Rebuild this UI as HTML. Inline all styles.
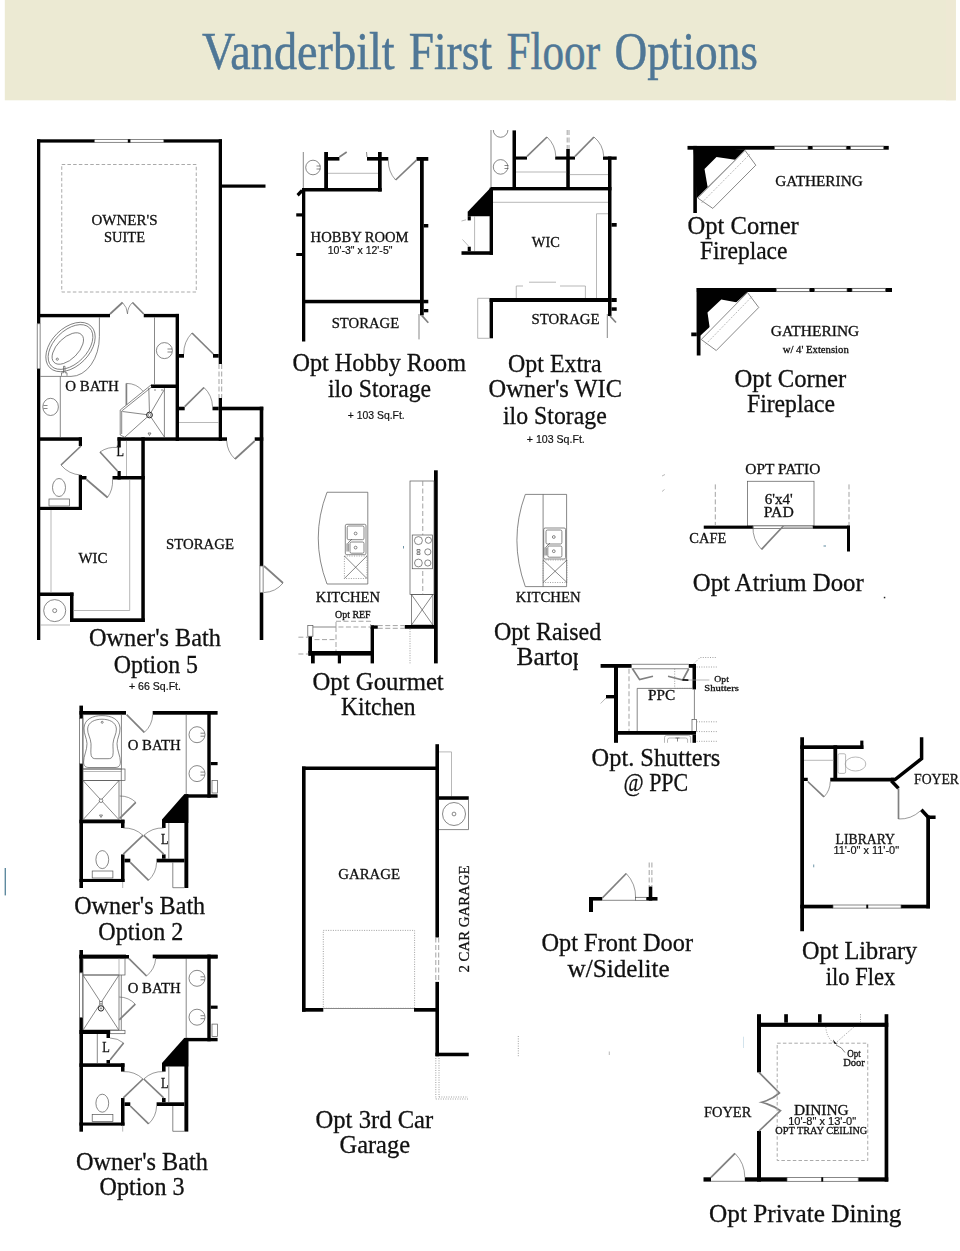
<!DOCTYPE html>
<html><head><meta charset="utf-8"><title>Vanderbilt First Floor Options</title>
<style>
html,body{margin:0;padding:0;background:#fff}
body{width:960px;height:1251px;overflow:hidden;font-family:"Liberation Serif",serif}
svg{display:block}
.s{font-family:"Liberation Serif",serif;fill:#111;stroke:#111;stroke-width:.3}
.a{font-family:"Liberation Sans",sans-serif;fill:#111;stroke:#111;stroke-width:.2}
.h{font-family:"Liberation Serif",serif;fill:#4f7796;stroke:#4f7796;stroke-width:.5}
.t{fill:none;stroke:#555;stroke-width:.7}
.tl{fill:none;stroke:#999;stroke-width:.7}
.tw{fill:#fff;stroke:#555;stroke-width:.7}
.d{fill:none;stroke:#555;stroke-width:.6}
.dl{fill:none;stroke:#808080;stroke-width:1.7}
.da{fill:none;stroke:#aaa;stroke-width:1;stroke-dasharray:3.5 2.2}
.dd{fill:none;stroke:#888;stroke-width:.8;stroke-dasharray:1 1.4}
.dg{fill:none;stroke:#999;stroke-width:.9;stroke-dasharray:5 2.5}
.k{fill:none;stroke:#000;stroke-width:3.5}
.tk{fill:#fff;stroke:#222;stroke-width:1}
</style></head><body>
<svg width="960" height="1251" viewBox="0 0 960 1251">
<g opacity="0.999">
<rect x="4.80" y="0.00" width="951.00" height="100.30" fill="#ecead3"/>
<rect x="946.00" y="0.00" width="9.80" height="100.30" fill="#eee9d4"/>
<text class="h" x="202.00" y="68.75" font-size="53" textLength="192.70" lengthAdjust="spacingAndGlyphs" >Vanderbilt</text>
<text class="h" x="408.75" y="68.75" font-size="53" textLength="83.25" lengthAdjust="spacingAndGlyphs" >First</text>
<text class="h" x="506.50" y="68.75" font-size="53" textLength="93.50" lengthAdjust="spacingAndGlyphs" >Floor</text>
<text class="h" x="614.40" y="68.75" font-size="53" textLength="143.60" lengthAdjust="spacingAndGlyphs" >Options</text>
<rect x="37.00" y="139.30" width="3.30" height="184.45" fill="#000"/>
<rect x="37.00" y="368.75" width="3.30" height="271.25" fill="#000"/>
<rect class="tw" x="37.20" y="323.75" width="2.90" height="45.00"/>
<rect x="37.00" y="139.30" width="57.50" height="3.30" fill="#000"/>
<rect x="163.75" y="139.30" width="58.25" height="3.30" fill="#000"/>
<rect class="tw" x="94.50" y="139.60" width="69.25" height="2.70"/>
<rect x="127.80" y="139.30" width="2.60" height="3.30" fill="#000"/>
<rect x="218.70" y="139.30" width="3.30" height="224.70" fill="#000"/>
<rect x="218.70" y="398.00" width="3.30" height="43.00" fill="#000"/>
<line class="dg" x1="219.00" y1="364.00" x2="219.00" y2="398.00"/>
<line class="dg" x1="221.70" y1="364.00" x2="221.70" y2="398.00"/>
<rect x="222.00" y="184.50" width="43.50" height="3.20" fill="#000"/>
<rect x="37.00" y="313.90" width="73.00" height="3.40" fill="#000"/>
<rect x="143.75" y="313.90" width="35.25" height="3.40" fill="#000"/>
<rect x="175.60" y="313.90" width="3.40" height="127.10" fill="#000"/>
<rect x="151.00" y="384.50" width="25.00" height="3.50" fill="#000"/>
<rect x="37.00" y="437.30" width="45.00" height="3.50" fill="#000"/>
<rect x="117.50" y="437.30" width="109.50" height="3.50" fill="#000"/>
<rect x="254.70" y="437.30" width="8.60" height="3.50" fill="#000"/>
<rect x="141.30" y="437.30" width="3.50" height="184.70" fill="#000"/>
<rect x="117.50" y="437.30" width="3.25" height="10.20" fill="#000"/>
<rect x="117.50" y="471.00" width="3.25" height="8.50" fill="#000"/>
<rect x="112.50" y="476.00" width="32.30" height="3.50" fill="#000"/>
<rect x="78.75" y="437.30" width="3.25" height="8.70" fill="#000"/>
<rect x="78.75" y="475.00" width="3.25" height="35.00" fill="#000"/>
<rect x="37.00" y="506.80" width="45.00" height="3.20" fill="#000"/>
<rect x="82.00" y="476.00" width="4.50" height="3.50" fill="#000"/>
<rect x="179.00" y="354.00" width="5.00" height="3.70" fill="#000"/>
<rect x="213.00" y="354.00" width="5.70" height="3.70" fill="#000"/>
<rect x="179.00" y="406.70" width="5.70" height="3.60" fill="#000"/>
<rect x="212.50" y="406.70" width="6.20" height="3.60" fill="#000"/>
<rect x="222.00" y="406.70" width="41.30" height="3.60" fill="#000"/>
<rect x="259.70" y="406.70" width="3.60" height="159.30" fill="#000"/>
<rect x="259.70" y="592.50" width="3.60" height="47.50" fill="#000"/>
<rect x="70.00" y="618.30" width="74.80" height="3.70" fill="#000"/>
<rect x="37.00" y="592.50" width="36.50" height="3.50" fill="#000"/>
<rect x="70.00" y="592.50" width="3.50" height="29.50" fill="#000"/>
<rect class="da" x="61.75" y="164.50" width="134.50" height="127.50"/>
<path class="dl" d="M110.00 314.00L122.50 302.50"/>
<path class="d" d="M122.50 302.50A16.99 16.99 0 0 1 127.50 313.90"/>
<path class="dl" d="M143.75 314.00L132.50 302.50"/>
<path class="d" d="M132.50 302.50A16.09 16.09 0 0 0 127.50 313.90"/>
<path class="t" d="M99.4 317.3V336.5A28.4 39.9 0 0 1 71 376.4H40.3" />
<ellipse class="t" cx="70.50" cy="347.00" rx="29.30" ry="19.00" transform="rotate(-45 70.50 347.00)"/>
<ellipse class="t" cx="70.50" cy="347.00" rx="27.00" ry="16.50" transform="rotate(-45 70.50 347.00)"/>
<ellipse class="t" cx="67.80" cy="348.50" rx="19.50" ry="10.60" transform="rotate(-45 67.80 348.50)"/>
<circle class="t" cx="57.30" cy="359.20" r="1.10"/>
<path class="t" d="M61.5 375.8v-3h2v-6.5h1.5v6.5h2v3" />
<line class="t" x1="60.30" y1="376.40" x2="60.30" y2="437.30"/>
<ellipse class="t" cx="50.60" cy="406.90" rx="7.80" ry="8.60"/>
<path class="t" d="M43.5 405.5h4M43.5 408.5h4" />
<line class="t" x1="154.50" y1="317.30" x2="154.50" y2="384.50"/>
<circle class="t" cx="164.40" cy="350.60" r="8.00"/>
<path class="t" d="M167.5 349h4.5M167.5 352h4.5" />
<path class="t" d="M151.4 384.7L120.2 410V435L124.8 437.3" />
<path class="t" d="M152.5 386.3L121.7 411V434" />
<path class="dl" d="M126.40 405.00L126.40 383.40"/>
<path class="d" d="M126.40 383.40A21.60 21.60 0 0 1 143.20 391.40"/>
<line class="t" x1="164.40" y1="388.00" x2="164.40" y2="437.30"/>
<path class="t" d="M149.5 415L148.8 388M149.5 415L164.4 389.5M149.5 415L164.4 437M149.5 415L125 437M149.5 415L122.5 411.5" />
<circle class="tk" cx="149.50" cy="415.00" r="2.90"/>
<circle class="t" cx="149.50" cy="415.00" r="1.50"/>
<path class="t" d="M148 433h3l-1.5 2.5z" />
<path class="t" d="M154 390h2M161 390h2" />
<path class="dl" d="M213.30 354.00L192.00 333.00"/>
<path class="d" d="M192.00 333.00A29.91 29.91 0 0 0 183.70 354.00"/>
<path class="dl" d="M184.70 406.70L204.00 387.50"/>
<path class="d" d="M204.00 387.50A27.22 27.22 0 0 1 212.50 406.70"/>
<line class="tl" x1="179.00" y1="422.50" x2="218.70" y2="422.50"/>
<path class="dl" d="M254.70 441.00L235.00 459.00"/>
<path class="d" d="M235.00 459.00A26.69 26.69 0 0 1 226.70 441.00"/>
<line class="tl" x1="126.50" y1="440.80" x2="126.50" y2="476.00"/>
<line class="tl" x1="129.70" y1="479.50" x2="129.70" y2="610.50"/>
<text class="s" x="116.50" y="455.50" font-size="14.5" textLength="7.50" lengthAdjust="spacingAndGlyphs" >L</text>
<path class="dl" d="M117.50 471.00L100.00 452.00"/>
<path class="d" d="M100.00 452.00A25.83 25.83 0 0 1 117.50 447.50"/>
<path class="dl" d="M81.00 446.00L61.00 465.00"/>
<path class="d" d="M61.00 465.00A27.59 27.59 0 0 0 81.00 475.00"/>
<ellipse class="t" cx="59.00" cy="487.50" rx="6.50" ry="9.00"/>
<rect class="t" x="49.00" y="499.00" width="20.50" height="7.00"/>
<path class="dl" d="M86.50 479.50L107.50 497.50"/>
<path class="d" d="M107.50 497.50A27.66 27.66 0 0 0 112.50 479.50"/>
<line class="tl" x1="51.00" y1="510.00" x2="51.00" y2="592.50"/>
<line class="tl" x1="73.50" y1="610.50" x2="129.70" y2="610.50"/>
<circle class="t" cx="54.70" cy="610.60" r="11.00"/>
<circle class="t" cx="54.70" cy="610.60" r="2.00"/>
<line class="tl" x1="40.30" y1="625.00" x2="70.00" y2="625.00"/>
<rect class="tw" x="259.90" y="566.00" width="3.20" height="26.50"/>
<path class="dl" d="M264.00 566.00L283.00 583.00"/>
<path class="d" d="M283.00 583.00A25.50 25.50 0 0 1 264.00 592.50"/>
<text class="s" x="91.50" y="224.50" font-size="14.5" textLength="66.00" lengthAdjust="spacingAndGlyphs" >OWNER'S</text>
<text class="s" x="104.00" y="241.50" font-size="14.5" textLength="41.00" lengthAdjust="spacingAndGlyphs" >SUITE</text>
<text class="s" x="65.25" y="390.50" font-size="14.5" textLength="53.50" lengthAdjust="spacingAndGlyphs" >O BATH</text>
<text class="s" x="78.50" y="563.00" font-size="14.5" textLength="29.00" lengthAdjust="spacingAndGlyphs" >WIC</text>
<text class="s" x="166.00" y="548.50" font-size="14.5" textLength="68.00" lengthAdjust="spacingAndGlyphs" >STORAGE</text>
<text class="s" x="89.00" y="646.00" font-size="24.5" textLength="132.00" lengthAdjust="spacingAndGlyphs" >Owner's Bath</text>
<text class="s" x="113.70" y="672.50" font-size="24.5" textLength="84.40" lengthAdjust="spacingAndGlyphs" >Option 5</text>
<text class="a" x="129.00" y="690.00" font-size="11" textLength="52.00" lengthAdjust="spacingAndGlyphs" >+ 66 Sq.Ft.</text>
<rect x="79.40" y="711.00" width="46.60" height="3.70" fill="#000"/>
<rect x="152.70" y="711.00" width="64.90" height="3.70" fill="#000"/>
<rect x="207.30" y="711.00" width="3.40" height="86.70" fill="#000"/>
<rect x="210.70" y="762.00" width="6.90" height="3.20" fill="#000"/>
<rect class="t" x="212.00" y="780.50" width="5.40" height="12.50"/>
<rect x="185.50" y="794.30" width="32.10" height="3.40" fill="#000"/>
<polygon points="184.20,794.30 162.00,819.40 162.00,823.00 188.30,823.00 188.30,794.30" fill="#000" class=""/>
<rect x="184.40" y="794.30" width="3.90" height="93.70" fill="#000"/>
<rect x="162.00" y="819.40" width="3.60" height="8.60" fill="#000"/>
<rect x="162.00" y="854.40" width="3.60" height="4.30" fill="#000"/>
<rect x="156.60" y="858.70" width="27.80" height="3.70" fill="#000"/>
<path class="t" d="M172.8 862.4V887.7H184.4" />
<line class="t" x1="168.80" y1="823.00" x2="168.80" y2="858.70"/>
<rect x="79.40" y="819.70" width="45.10" height="3.60" fill="#000"/>
<rect x="121.00" y="819.70" width="3.50" height="8.30" fill="#000"/>
<rect x="121.00" y="854.40" width="3.50" height="27.60" fill="#000"/>
<rect x="124.50" y="858.70" width="5.80" height="3.70" fill="#000"/>
<rect x="79.40" y="878.90" width="45.10" height="3.10" fill="#000"/>
<line class="tl" x1="122.70" y1="882.00" x2="122.70" y2="888.00"/>
<ellipse class="t" cx="102.30" cy="859.60" rx="6.40" ry="9.00"/>
<rect class="t" x="92.20" y="871.00" width="20.70" height="7.00"/>
<path class="dl" d="M123.30 854.20L143.00 835.40"/>
<path class="d" d="M143.00 835.40A27.23 27.23 0 0 0 123.30 828.00"/>
<path class="dl" d="M163.70 854.20L143.75 835.40"/>
<path class="d" d="M143.75 835.40A27.41 27.41 0 0 1 163.70 828.00"/>
<path class="dl" d="M130.30 862.40L148.60 880.30"/>
<path class="d" d="M148.60 880.30A25.60 25.60 0 0 0 156.60 862.40"/>
<line class="t" x1="186.20" y1="714.70" x2="186.20" y2="794.30"/>
<circle class="t" cx="197.00" cy="734.70" r="8.00"/>
<path class="t" d="M200.5 733.2h4M200.5 736.2h4" />
<circle class="t" cx="197.00" cy="773.60" r="8.00"/>
<path class="t" d="M200.5 772.1h4M200.5 775.1h4" />
<text class="s" x="161.00" y="844.00" font-size="14.5" textLength="7.50" lengthAdjust="spacingAndGlyphs" >L</text>
<text class="s" x="127.70" y="749.60" font-size="14.5" textLength="53.00" lengthAdjust="spacingAndGlyphs" >O BATH</text>
<rect x="79.40" y="705.60" width="3.60" height="13.00" fill="#000"/>
<rect x="79.40" y="763.80" width="3.60" height="124.20" fill="#000"/>
<rect class="tw" x="79.60" y="718.60" width="3.20" height="45.20"/>
<path class="dl" d="M126.60 714.70L144.30 732.40"/>
<path class="d" d="M144.30 732.40A25.03 25.03 0 0 0 152.70 714.70"/>
<rect class="t" x="83.00" y="714.70" width="38.30" height="54.30"/>
<path class="t" d="M102 715.6C111 715.6 119.5 719 120 728C120.3 734 117.2 738 117 743.6C116.8 750 120.5 756 120.4 762C120.3 766 118.5 767.5 115 767.5H89C85.5 767.5 83.7 766 83.6 762C83.5 756 87.2 750 87 743.6C86.8 738 83.7 734 84 728C84.5 719 93 715.6 102 715.6Z" />
<path class="t" d="M102 719.2C109 719.2 116 722 116.4 729C116.6 734 113.3 738 113 743.6C112.8 748 113.6 752 112.8 755.5C112 758.2 110.5 758.7 108 758.7H96C93.5 758.7 92 758.2 91.2 755.5C90.4 752 91.2 748 91 743.6C90.7 738 87.4 734 87.6 729C88 722 95 719.2 102 719.2Z" />
<circle class="t" cx="102.20" cy="722.30" r="1.00"/>
<rect class="t" x="83.00" y="769.00" width="42.00" height="11.50"/>
<line class="tl" x1="83.00" y1="771.50" x2="121.30" y2="771.50"/>
<rect class="t" x="83.00" y="780.50" width="36.00" height="39.20"/>
<line class="t" x1="121.30" y1="769.00" x2="121.30" y2="819.70"/>
<path class="t" d="M83 780.5L119 819.7M119 780.5L83 819.7" />
<circle class="tw" cx="101.00" cy="800.70" r="1.80"/>
<path class="t" d="M99.5 815h3l-1.5 2.5z" />
<path class="dl" d="M119.70 818.40L135.80 802.30"/>
<path class="d" d="M135.80 802.30A22.77 22.77 0 0 0 119.70 796.00"/>
<text class="s" x="74.20" y="914.00" font-size="24.5" textLength="131.00" lengthAdjust="spacingAndGlyphs" >Owner's Bath</text>
<text class="s" x="98.30" y="940.00" font-size="24.5" textLength="85.00" lengthAdjust="spacingAndGlyphs" >Option 2</text>
<rect x="79.40" y="954.60" width="46.60" height="3.70" fill="#000"/>
<rect x="152.70" y="954.60" width="64.90" height="3.70" fill="#000"/>
<rect x="207.30" y="954.60" width="3.40" height="86.70" fill="#000"/>
<rect x="210.70" y="1005.60" width="6.90" height="3.20" fill="#000"/>
<rect class="t" x="212.00" y="1024.10" width="5.40" height="12.50"/>
<rect x="185.50" y="1037.90" width="32.10" height="3.40" fill="#000"/>
<polygon points="184.20,1037.90 162.00,1063.00 162.00,1066.60 188.30,1066.60 188.30,1037.90" fill="#000" class=""/>
<rect x="184.40" y="1037.90" width="3.90" height="93.70" fill="#000"/>
<rect x="162.00" y="1063.00" width="3.60" height="8.60" fill="#000"/>
<rect x="162.00" y="1098.00" width="3.60" height="4.30" fill="#000"/>
<rect x="156.60" y="1102.30" width="27.80" height="3.70" fill="#000"/>
<path class="t" d="M172.8 1106.0V1131.3H184.4" />
<line class="t" x1="168.80" y1="1066.60" x2="168.80" y2="1102.30"/>
<rect x="79.40" y="1063.30" width="45.10" height="3.60" fill="#000"/>
<rect x="121.00" y="1063.30" width="3.50" height="8.30" fill="#000"/>
<rect x="121.00" y="1098.00" width="3.50" height="27.60" fill="#000"/>
<rect x="124.50" y="1102.30" width="5.80" height="3.70" fill="#000"/>
<rect x="79.40" y="1122.50" width="45.10" height="3.10" fill="#000"/>
<line class="tl" x1="122.70" y1="1125.60" x2="122.70" y2="1131.60"/>
<ellipse class="t" cx="102.30" cy="1103.20" rx="6.40" ry="9.00"/>
<rect class="t" x="92.20" y="1114.60" width="20.70" height="7.00"/>
<path class="dl" d="M123.30 1097.80L143.00 1079.00"/>
<path class="d" d="M143.00 1079.00A27.23 27.23 0 0 0 123.30 1071.60"/>
<path class="dl" d="M163.70 1097.80L143.75 1079.00"/>
<path class="d" d="M143.75 1079.00A27.41 27.41 0 0 1 163.70 1071.60"/>
<path class="dl" d="M130.30 1106.00L148.60 1123.90"/>
<path class="d" d="M148.60 1123.90A25.60 25.60 0 0 0 156.60 1106.00"/>
<line class="t" x1="186.20" y1="958.30" x2="186.20" y2="1037.90"/>
<circle class="t" cx="197.00" cy="978.30" r="8.00"/>
<path class="t" d="M200.5 976.8000000000001h4M200.5 979.8000000000001h4" />
<circle class="t" cx="197.00" cy="1017.20" r="8.00"/>
<path class="t" d="M200.5 1015.7h4M200.5 1018.7h4" />
<text class="s" x="161.00" y="1087.60" font-size="14.5" textLength="7.50" lengthAdjust="spacingAndGlyphs" >L</text>
<text class="s" x="127.70" y="993.20" font-size="14.5" textLength="53.00" lengthAdjust="spacingAndGlyphs" >O BATH</text>
<rect x="79.40" y="950.00" width="3.60" height="22.80" fill="#000"/>
<rect x="79.40" y="1017.50" width="3.60" height="114.20" fill="#000"/>
<rect class="tw" x="79.60" y="972.80" width="3.20" height="44.70"/>
<path class="dl" d="M129.00 958.60L146.50 976.00"/>
<path class="d" d="M146.50 976.00A24.68 24.68 0 0 0 155.70 958.60"/>
<rect x="79.40" y="955.00" width="49.60" height="3.60" fill="#000"/>
<rect x="155.70" y="955.00" width="61.90" height="3.60" fill="#000"/>
<rect class="t" x="83.00" y="958.60" width="42.00" height="16.40"/>
<line class="tl" x1="119.00" y1="958.60" x2="119.00" y2="975.00"/>
<rect class="t" x="83.00" y="975.00" width="36.00" height="55.00"/>
<line class="t" x1="121.30" y1="975.00" x2="121.30" y2="1030.00"/>
<path class="t" d="M83.3 975.6L118.6 1029.7M118.6 975.6L83.3 1029.7" />
<rect class="tw" x="99.80" y="1001.50" width="2.40" height="2.40"/>
<circle class="tk" cx="101.00" cy="1008.40" r="2.70"/>
<circle class="t" cx="101.00" cy="1008.40" r="0.70"/>
<path class="dl" d="M119.20 1019.80L135.30 1004.20"/>
<path class="d" d="M135.30 1004.20A22.42 22.42 0 0 0 119.20 997.00"/>
<rect x="79.40" y="1030.00" width="30.60" height="4.00" fill="#000"/>
<rect class="t" x="110.00" y="1030.30" width="15.00" height="3.40"/>
<rect x="106.50" y="1030.00" width="3.50" height="8.00" fill="#000"/>
<rect x="106.50" y="1060.00" width="3.50" height="3.60" fill="#000"/>
<line class="t" x1="97.30" y1="1034.00" x2="97.30" y2="1063.30"/>
<text class="s" x="102.20" y="1051.50" font-size="14.5" textLength="7.60" lengthAdjust="spacingAndGlyphs" >L</text>
<path class="dl" d="M110.00 1060.00L123.60 1043.00"/>
<path class="d" d="M123.60 1043.00A21.77 21.77 0 0 0 110.00 1038.00"/>
<text class="s" x="76.00" y="1169.50" font-size="24.5" textLength="132.00" lengthAdjust="spacingAndGlyphs" >Owner's Bath</text>
<text class="s" x="99.50" y="1195.00" font-size="24.5" textLength="85.00" lengthAdjust="spacingAndGlyphs" >Option 3</text>
<rect x="302.00" y="189.00" width="3.30" height="152.50" fill="#000"/>
<polygon points="296.50,194.00 301.00,189.30 303.50,191.50 298.70,196.50" fill="#000" class=""/>
<rect x="302.00" y="188.00" width="79.70" height="3.50" fill="#000"/>
<rect x="324.20" y="152.00" width="3.80" height="37.40" fill="#000"/>
<rect x="378.00" y="152.00" width="3.70" height="39.50" fill="#000"/>
<rect x="328.00" y="157.00" width="11.40" height="3.60" fill="#000"/>
<rect x="367.00" y="157.00" width="21.30" height="3.60" fill="#000"/>
<rect x="416.50" y="157.00" width="11.80" height="3.80" fill="#000"/>
<rect x="420.00" y="157.00" width="3.75" height="158.40" fill="#000"/>
<rect x="423.75" y="224.00" width="4.55" height="3.50" fill="#000"/>
<rect x="423.75" y="299.80" width="4.55" height="3.50" fill="#000"/>
<rect x="423.75" y="309.00" width="4.55" height="3.30" fill="#000"/>
<rect x="296.25" y="213.30" width="5.75" height="3.20" fill="#000"/>
<rect x="296.25" y="253.00" width="5.75" height="3.00" fill="#000"/>
<rect x="302.00" y="299.80" width="121.75" height="3.50" fill="#000"/>
<line class="t" x1="303.30" y1="152.00" x2="303.30" y2="188.00"/>
<circle class="t" cx="313.00" cy="167.50" r="7.30"/>
<path class="t" d="M316.5 166h4M316.5 169h4" />
<line class="tl" x1="328.00" y1="173.30" x2="378.00" y2="173.30"/>
<path class="dl" d="M339.4 157L346.7 152" />
<line class="t" x1="367.00" y1="157.00" x2="366.50" y2="152.00"/>
<path class="dl" d="M416.50 160.20L395.60 180.00"/>
<path class="d" d="M395.60 180.00A28.79 28.79 0 0 1 388.30 160.60"/>
<line class="t" x1="419.00" y1="314.00" x2="419.00" y2="339.40"/>
<path class="dl" d="M421.7 315.4L428.3 322.7" />
<text class="s" x="310.60" y="241.50" font-size="14.5" textLength="98.00" lengthAdjust="spacingAndGlyphs" >HOBBY ROOM</text>
<text class="a" x="327.73" y="253.50" font-size="11" textLength="64.75" lengthAdjust="spacingAndGlyphs" >10'-3" x 12'-5"</text>
<text class="s" x="331.65" y="328.30" font-size="14.5" textLength="67.50" lengthAdjust="spacingAndGlyphs" >STORAGE</text>
<text class="s" x="292.50" y="371.25" font-size="24.5" textLength="173.50" lengthAdjust="spacingAndGlyphs" >Opt Hobby Room</text>
<text class="s" x="328.00" y="397.00" font-size="24.5" textLength="103.00" lengthAdjust="spacingAndGlyphs" >ilo Storage</text>
<text class="a" x="347.75" y="418.50" font-size="11" textLength="57.00" lengthAdjust="spacingAndGlyphs" >+ 103 Sq.Ft.</text>
<rect x="512.50" y="130.40" width="3.50" height="57.30" fill="#000"/>
<rect x="490.60" y="187.00" width="120.90" height="3.40" fill="#000"/>
<rect x="566.25" y="149.00" width="3.55" height="38.70" fill="#000"/>
<line class="dg" x1="567.20" y1="130.00" x2="567.20" y2="149.00"/>
<line class="dg" x1="569.00" y1="130.00" x2="569.00" y2="149.00"/>
<rect x="608.00" y="156.50" width="3.50" height="159.50" fill="#000"/>
<rect x="516.00" y="156.50" width="11.00" height="3.10" fill="#000"/>
<rect x="555.20" y="156.50" width="19.80" height="3.10" fill="#000"/>
<rect x="603.00" y="156.50" width="13.70" height="3.30" fill="#000"/>
<path class="dl" d="M527.00 156.30L547.00 137.00"/>
<path class="d" d="M547.00 137.00A27.79 27.79 0 0 1 555.80 156.50"/>
<path class="dl" d="M575.00 156.30L594.00 137.00"/>
<path class="d" d="M594.00 137.00A27.08 27.08 0 0 1 603.75 156.50"/>
<line class="tl" x1="516.00" y1="172.00" x2="566.25" y2="172.00"/>
<line class="tl" x1="569.80" y1="174.60" x2="608.00" y2="174.60"/>
<line class="t" x1="491.00" y1="130.00" x2="491.00" y2="187.00"/>
<circle class="t" cx="500.60" cy="166.90" r="7.30"/>
<path class="t" d="M504.5 165.5h4M504.5 168.5h4" />
<path class="t" d="M493.3 130A7.3 7.3 0 0 0 507.9 130" />
<rect x="489.60" y="187.70" width="3.40" height="67.10" fill="#000"/>
<polygon points="490.60,187.70 467.70,211.70 467.70,216.25 493.00,216.25 493.00,187.70" fill="#000" class=""/>
<rect x="467.70" y="216.25" width="3.10" height="4.15" fill="#000"/>
<rect x="461.50" y="251.25" width="31.50" height="3.55" fill="#000"/>
<rect x="467.70" y="246.70" width="3.10" height="4.55" fill="#000"/>
<line class="tl" x1="474.60" y1="216.00" x2="474.60" y2="251.00"/>
<path class="tl" d="M461.5 221L466 219.8" />
<path class="tl" d="M462.5 239.5L468.5 246" />
<line class="tl" x1="493.00" y1="202.30" x2="608.00" y2="202.30"/>
<path class="tl" d="M596.5 298V213.75H608" />
<rect x="611.50" y="223.00" width="5.20" height="3.70" fill="#000"/>
<rect x="611.50" y="298.00" width="5.20" height="4.00" fill="#000"/>
<rect x="611.50" y="307.30" width="5.20" height="3.50" fill="#000"/>
<rect x="489.60" y="298.00" width="121.90" height="4.00" fill="#000"/>
<rect x="489.60" y="298.00" width="3.40" height="40.30" fill="#000"/>
<path class="tl" d="M489.6 298.3H477.7V338.3H489.6" />
<path class="tl" d="M516.25 298V286H523M560 286H585.4V298" />
<line class="tl" x1="529.00" y1="282.20" x2="556.00" y2="282.20"/>
<line class="t" x1="607.30" y1="314.00" x2="607.30" y2="338.00"/>
<path class="dl" d="M610 316L616 322.5" />
<text class="s" x="531.80" y="246.50" font-size="14.5" textLength="28.00" lengthAdjust="spacingAndGlyphs" >WIC</text>
<text class="s" x="531.60" y="324.20" font-size="14.5" textLength="68.00" lengthAdjust="spacingAndGlyphs" >STORAGE</text>
<text class="s" x="508.00" y="371.70" font-size="24.5" textLength="93.70" lengthAdjust="spacingAndGlyphs" >Opt Extra</text>
<text class="s" x="488.50" y="397.00" font-size="24.5" textLength="133.50" lengthAdjust="spacingAndGlyphs" >Owner's WIC</text>
<text class="s" x="503.00" y="423.75" font-size="24.5" textLength="103.70" lengthAdjust="spacingAndGlyphs" >ilo Storage</text>
<text class="a" x="526.80" y="442.50" font-size="11" textLength="58.00" lengthAdjust="spacingAndGlyphs" >+ 103 Sq.Ft.</text>
<rect x="687.50" y="145.90" width="87.00" height="3.80" fill="#000"/>
<rect x="693.30" y="145.90" width="3.60" height="67.10" fill="#000"/>
<polygon points="693.30,146.00 745.00,149.70 696.90,198.00" fill="#000" class=""/>
<polygon points="693.30,146.00 745.50,146.00 745.00,149.70" fill="#000" class=""/>
<polygon points="716.50,156.90 735.20,159.80 707.60,187.00 704.50,168.90" fill="#fff" class=""/>
<polygon points="745.00,150.40 755.80,165.20 712.80,208.40 697.70,198.00" fill="#fff" class="t"/>
<line class="dd" x1="749.50" y1="154.50" x2="701.50" y2="203.00"/>
<rect x="774.50" y="145.90" width="114.25" height="3.80" fill="#000"/>
<rect class="tw" x="774.50" y="146.20" width="33.50" height="3.20"/>
<rect class="tw" x="812.50" y="146.20" width="33.75" height="3.20"/>
<rect class="tw" x="850.50" y="146.20" width="33.25" height="3.20"/>
<text class="s" x="775.25" y="185.50" font-size="14.5" textLength="87.50" lengthAdjust="spacingAndGlyphs" >GATHERING</text>
<text class="s" x="687.50" y="233.75" font-size="24.5" textLength="111.25" lengthAdjust="spacingAndGlyphs" >Opt Corner</text>
<text class="s" x="700.00" y="259.00" font-size="24.5" textLength="87.50" lengthAdjust="spacingAndGlyphs" >Fireplace</text>
<rect x="696.75" y="288.00" width="79.50" height="4.00" fill="#000"/>
<rect x="696.75" y="288.00" width="3.75" height="67.50" fill="#000"/>
<rect x="691.25" y="332.50" width="5.50" height="3.75" fill="#000"/>
<polygon points="696.75,288.00 748.00,288.00 747.50,292.00 700.50,335.50 696.75,336.00" fill="#000" class=""/>
<polygon points="721.25,299.50 737.50,302.50 710.00,330.00 707.50,312.50" fill="#fff" class=""/>
<polygon points="747.50,292.50 758.75,307.50 716.25,350.50 701.25,339.50" fill="#fff" class="t"/>
<line class="dd" x1="752.00" y1="296.50" x2="705.00" y2="345.00"/>
<rect x="776.25" y="288.00" width="115.75" height="4.00" fill="#000"/>
<rect class="tw" x="776.25" y="288.30" width="33.25" height="3.40"/>
<rect class="tw" x="814.50" y="288.30" width="32.50" height="3.40"/>
<rect class="tw" x="852.00" y="288.30" width="33.50" height="3.40"/>
<text class="s" x="770.75" y="335.50" font-size="14.5" textLength="88.50" lengthAdjust="spacingAndGlyphs" >GATHERING</text>
<text class="s" x="782.75" y="352.50" font-size="10" textLength="66.00" lengthAdjust="spacingAndGlyphs" >w/ 4' Extension</text>
<text class="s" x="734.50" y="387.00" font-size="24.5" textLength="111.75" lengthAdjust="spacingAndGlyphs" >Opt Corner</text>
<text class="s" x="747.00" y="412.00" font-size="24.5" textLength="88.00" lengthAdjust="spacingAndGlyphs" >Fireplace</text>
<text class="s" x="745.30" y="474.40" font-size="14.5" textLength="75.00" lengthAdjust="spacingAndGlyphs" >OPT PATIO</text>
<rect class="t" x="747.50" y="481.25" width="66.50" height="44.75"/>
<text class="s" x="764.75" y="503.75" font-size="14.5" textLength="28.00" lengthAdjust="spacingAndGlyphs" >6'x4'</text>
<text class="s" x="763.75" y="516.50" font-size="14.5" textLength="30.00" lengthAdjust="spacingAndGlyphs" >PAD</text>
<line class="dg" x1="715.30" y1="484.40" x2="715.30" y2="525.00"/>
<line class="dg" x1="849.00" y1="484.40" x2="849.00" y2="525.00"/>
<rect x="703.75" y="525.60" width="49.25" height="3.15" fill="#000"/>
<rect x="812.50" y="525.60" width="37.50" height="3.15" fill="#000"/>
<rect x="847.00" y="525.60" width="3.00" height="25.90" fill="#000"/>
<rect class="tw" x="753.00" y="525.90" width="59.50" height="2.50"/>
<rect x="783.40" y="526.30" width="29.10" height="1.90" fill="#bbb"/>
<path class="dl" d="M783.40 526.00L761.50 549.40"/>
<path class="d" d="M761.50 549.40A32.05 32.05 0 0 1 753.00 526.00"/>
<text class="s" x="689.30" y="543.00" font-size="14.5" textLength="37.00" lengthAdjust="spacingAndGlyphs" >CAFE</text>
<rect x="823.50" y="545.50" width="2.50" height="1.00" fill="#5f8a9f"/>
<text class="s" x="692.80" y="591.25" font-size="24.5" textLength="170.95" lengthAdjust="spacingAndGlyphs" >Opt Atrium Door</text>
<rect x="883.80" y="596.80" width="1.50" height="1.50" fill="#222"/>
<path class="tl" d="M662 476l3-1.5M662 491.5l2.5-2" />
<rect x="434.00" y="470.30" width="3.75" height="193.10" fill="#000"/>
<rect class="t" x="410.00" y="481.00" width="24.00" height="113.60"/>
<line class="dg" x1="422.75" y1="481.00" x2="422.75" y2="594.60"/>
<rect class="tw" x="412.25" y="535.00" width="20.25" height="33.75"/>
<circle class="t" cx="418.40" cy="540.60" r="4.00"/>
<circle class="t" cx="428.40" cy="540.25" r="3.10"/>
<circle class="t" cx="427.80" cy="551.90" r="3.10"/>
<circle class="t" cx="418.40" cy="563.00" r="3.90"/>
<circle class="t" cx="427.80" cy="563.00" r="3.10"/>
<path class="t" d="M417 549.5h3v1.8h-3zM417 552.7h3v1.8h-3z" />
<rect class="t" x="411.50" y="594.60" width="21.40" height="30.40"/>
<path class="t" d="M411.5 594.6L432.9 625M432.9 594.6L411.5 625" />
<rect x="404.75" y="625.00" width="29.25" height="3.75" fill="#000"/>
<line class="dg" x1="377.75" y1="625.60" x2="404.75" y2="625.60"/>
<line class="dg" x1="377.75" y1="628.30" x2="404.75" y2="628.30"/>
<line class="dd" x1="410.00" y1="628.75" x2="410.00" y2="663.40"/>
<path class="t" d="M327 492.25H367.8V584H327Q309.5 538 327 492.25Z" />
<rect class="t" x="345.3" y="524.3" width="20.7" height="30.4" rx="1.5"/>
<rect class="t" x="347.2" y="526" width="16.8" height="13.7" rx="1.5"/>
<rect class="t" x="350" y="542" width="14" height="11.2" rx="1.5"/>
<circle class="t" cx="355.60" cy="533.50" r="1.40"/>
<circle class="t" cx="355.60" cy="547.60" r="1.40"/>
<path class="t" d="M347 543.5v8M348.3 543.5v8M347.5 543.5L352 539" />
<rect class="dd" x="344.40" y="556.00" width="22.50" height="22.50"/>
<path class="t" d="M344.4 556L366.9 578.5M366.9 556L344.4 578.5" />
<text class="s" x="315.85" y="601.60" font-size="14.5" textLength="64.30" lengthAdjust="spacingAndGlyphs" >KITCHEN</text>
<text class="s" x="335.00" y="617.90" font-size="10" textLength="35.60" lengthAdjust="spacingAndGlyphs" >Opt REF</text>
<rect x="370.60" y="625.40" width="3.40" height="38.00" fill="#000"/>
<rect x="370.60" y="625.40" width="7.15" height="3.35" fill="#000"/>
<rect x="308.40" y="651.00" width="65.60" height="4.60" fill="#000"/>
<rect x="308.40" y="636.25" width="3.60" height="19.35" fill="#000"/>
<rect x="311.00" y="655.00" width="3.75" height="8.40" fill="#000"/>
<rect x="337.80" y="655.00" width="3.20" height="8.40" fill="#000"/>
<rect class="tw" x="307.80" y="625.40" width="5.10" height="10.85"/>
<line class="t" x1="313.00" y1="627.00" x2="336.00" y2="627.00"/>
<line class="dg" x1="298.40" y1="637.20" x2="308.40" y2="637.20"/>
<line class="dg" x1="314.50" y1="639.60" x2="336.00" y2="639.60"/>
<line class="dg" x1="298.40" y1="654.00" x2="308.40" y2="654.00"/>
<rect class="dg" x="336.00" y="621.25" width="34.60" height="5.75"/>
<line class="dg" x1="336.00" y1="627.00" x2="336.00" y2="651.00"/>
<rect x="403.00" y="546.00" width="0.90" height="2.50" fill="#5f8a9f"/>
<text class="s" x="312.50" y="689.60" font-size="24.5" textLength="131.25" lengthAdjust="spacingAndGlyphs" >Opt Gourmet</text>
<text class="s" x="341.00" y="715.40" font-size="24.5" textLength="74.60" lengthAdjust="spacingAndGlyphs" >Kitchen</text>
<path class="t" d="M525.3 494.4H566.6V586.6H525.3Q508.5 540 525.3 494.4Z" />
<line class="t" x1="543.10" y1="494.40" x2="543.10" y2="586.60"/>
<rect class="t" x="543.7" y="528" width="21.9" height="31" rx="1.5"/>
<rect class="t" x="546" y="530" width="15.9" height="14" rx="1.5"/>
<rect class="t" x="547.8" y="546" width="14.1" height="11.2" rx="1.5"/>
<circle class="t" cx="553.80" cy="537.00" r="1.40"/>
<circle class="t" cx="553.80" cy="551.20" r="1.40"/>
<path class="t" d="M545 547.5v8M546.3 547.5v8M545.5 547.5L550 543" />
<rect class="dd" x="543.10" y="560.00" width="23.90" height="22.50"/>
<path class="t" d="M543.1 560L567 582.5M567 560L543.1 582.5" />
<text class="s" x="515.85" y="602.20" font-size="14.5" textLength="64.70" lengthAdjust="spacingAndGlyphs" >KITCHEN</text>
<text class="s" x="494.00" y="639.70" font-size="24.5" textLength="107.25" lengthAdjust="spacingAndGlyphs" >Opt Raised</text>
<clipPath id="cb"><rect x="500" y="640" width="77.8" height="40"/></clipPath>
<text class="s" x="516.50" y="665.00" font-size="24.5" textLength="69.00" lengthAdjust="spacingAndGlyphs" clip-path="url(#cb)">Bartop</text>
<rect x="600.60" y="664.00" width="31.00" height="3.80" fill="#000"/>
<rect x="688.75" y="664.00" width="7.25" height="3.80" fill="#000"/>
<line class="t" x1="631.60" y1="664.30" x2="688.75" y2="664.30"/>
<line class="t" x1="631.60" y1="668.75" x2="688.75" y2="668.75"/>
<rect x="614.00" y="664.00" width="4.00" height="78.80" fill="#000"/>
<rect x="606.00" y="695.00" width="8.00" height="3.40" fill="#000"/>
<path class="tl" d="M600.6 703.5L606 698" />
<rect x="692.50" y="664.00" width="3.50" height="25.40" fill="#000"/>
<line class="t" x1="694.40" y1="689.40" x2="694.40" y2="719.40"/>
<rect class="tw" x="692.00" y="719.40" width="4.60" height="12.20"/>
<rect x="614.00" y="731.00" width="82.00" height="3.75" fill="#000"/>
<rect x="692.50" y="734.75" width="3.50" height="8.05" fill="#000"/>
<line class="dg" x1="629.00" y1="668.75" x2="629.00" y2="731.00"/>
<path class="t" d="M637.2 731V688.4H692.5" />
<line class="dd" x1="674.70" y1="668.75" x2="674.70" y2="688.40"/>
<line class="dd" x1="674.70" y1="688.40" x2="692.50" y2="688.40"/>
<path class="dl" d="M632.5 668.75L639.6 679.6L653 676.25" />
<path class="dl" d="M688.75 668.75L682.75 680L668 676.25" />
<polygon points="682.50,679.00 688.50,679.20 688.50,681.00 682.50,680.80" fill="#111" class=""/>
<line class="tl" x1="688.75" y1="680.00" x2="709.40" y2="680.00"/>
<path class="dd" d="M693.5 664L700 657.5H716.9" />
<line class="dd" x1="696.60" y1="667.00" x2="716.90" y2="667.00"/>
<line class="dd" x1="696.60" y1="721.80" x2="716.90" y2="721.80"/>
<line class="dd" x1="696.60" y1="731.60" x2="716.90" y2="731.60"/>
<line class="dd" x1="696.60" y1="741.30" x2="716.90" y2="741.30"/>
<text class="s" x="714.35" y="682.25" font-size="9" textLength="14.50" lengthAdjust="spacingAndGlyphs" >Opt</text>
<text class="s" x="704.25" y="691.25" font-size="9" textLength="34.70" lengthAdjust="spacingAndGlyphs" >Shutters</text>
<text class="s" x="648.00" y="699.70" font-size="14.5" textLength="27.20" lengthAdjust="spacingAndGlyphs" >PPC</text>
<path class="tl" d="M664.5 742.8V737.5Q664.5 735.5 666.5 735.5H688.6Q690.6 735.5 690.6 737.5V742.8" />
<path class="tl" d="M667.5 742.8V740Q667.5 738 669.5 738H685.6Q687.6 738 687.6 740V742.8" />
<path class="t" d="M677.5 738v3.5M675.5 738h4" />
<text class="s" x="591.60" y="766.25" font-size="24.5" textLength="128.65" lengthAdjust="spacingAndGlyphs" >Opt. Shutters</text>
<text class="s" x="623.50" y="791.00" font-size="24.5" textLength="64.70" lengthAdjust="spacingAndGlyphs" >@ PPC</text>
<rect x="302.00" y="766.50" width="3.60" height="245.20" fill="#000"/>
<rect x="302.00" y="766.50" width="137.00" height="3.50" fill="#000"/>
<rect x="435.40" y="744.20" width="3.60" height="193.30" fill="#000"/>
<rect x="435.40" y="981.90" width="3.60" height="74.35" fill="#000"/>
<line class="dg" x1="435.80" y1="937.50" x2="435.80" y2="981.90"/>
<line class="dg" x1="438.70" y1="937.50" x2="438.70" y2="981.90"/>
<path class="tl" d="M439 751.9H451.5V796.3" />
<rect x="439.00" y="796.25" width="29.75" height="3.55" fill="#000"/>
<path class="t" d="M439 829.6H468.5V799.8" />
<circle class="t" cx="454.00" cy="814.00" r="11.50"/>
<circle class="t" cx="454.00" cy="814.00" r="1.90"/>
<rect x="302.00" y="1008.00" width="21.30" height="3.70" fill="#000"/>
<rect x="414.00" y="1008.00" width="25.00" height="3.70" fill="#000"/>
<line class="t" x1="323.30" y1="1008.50" x2="414.00" y2="1008.50"/>
<rect x="435.40" y="1052.70" width="33.35" height="3.55" fill="#000"/>
<rect class="dd" x="323.30" y="930.40" width="91.30" height="77.90"/>
<line class="dd" x1="435.80" y1="1058.00" x2="435.80" y2="1099.00"/>
<line class="dd" x1="439.00" y1="1058.00" x2="439.00" y2="1097.00"/>
<line class="dd" x1="435.80" y1="1099.00" x2="468.00" y2="1099.00"/>
<line class="dd" x1="439.00" y1="1097.00" x2="468.00" y2="1097.00"/>
<text class="s" x="338.20" y="879.00" font-size="14.5" textLength="62.00" lengthAdjust="spacingAndGlyphs" >GARAGE</text>
<text class="s" font-size="15" textLength="107" lengthAdjust="spacingAndGlyphs" transform="translate(468.75 972.5) rotate(-90)">2 CAR GARAGE</text>
<text class="s" x="315.50" y="1128.00" font-size="24.5" textLength="117.75" lengthAdjust="spacingAndGlyphs" >Opt 3rd Car</text>
<text class="s" x="339.50" y="1152.50" font-size="24.5" textLength="70.50" lengthAdjust="spacingAndGlyphs" >Garage</text>
<rect x="589.00" y="897.00" width="13.30" height="3.60" fill="#000"/>
<rect x="589.00" y="897.00" width="4.00" height="15.00" fill="#000"/>
<path class="dl" d="M602.30 898.00L626.25 873.50"/>
<path class="d" d="M626.25 873.50A34.26 34.26 0 0 1 635.60 898.00"/>
<line class="t" x1="602.30" y1="900.30" x2="635.60" y2="900.30"/>
<rect class="tw" x="635.60" y="897.30" width="10.90" height="3.00"/>
<rect x="646.50" y="897.00" width="11.00" height="3.60" fill="#000"/>
<rect x="648.75" y="886.50" width="3.55" height="14.10" fill="#000"/>
<line class="dg" x1="649.20" y1="862.50" x2="649.20" y2="886.50"/>
<line class="dg" x1="651.90" y1="862.50" x2="651.90" y2="886.50"/>
<text class="s" x="541.50" y="950.60" font-size="24.5" textLength="151.50" lengthAdjust="spacingAndGlyphs" >Opt Front Door</text>
<text class="s" x="567.50" y="976.50" font-size="24.5" textLength="102.10" lengthAdjust="spacingAndGlyphs" >w/Sidelite</text>
<rect x="800.25" y="737.25" width="3.75" height="194.00" fill="#000"/>
<rect x="800.25" y="745.30" width="63.15" height="3.70" fill="#000"/>
<rect x="860.25" y="740.60" width="3.15" height="8.40" fill="#000"/>
<rect x="833.40" y="745.30" width="3.80" height="35.70" fill="#000"/>
<rect x="830.25" y="777.75" width="64.15" height="3.75" fill="#000"/>
<rect x="804.00" y="777.75" width="3.75" height="3.25" fill="#000"/>
<path class="dl" d="M807.75 781.50L824.00 796.90"/>
<path class="d" d="M824.00 796.90A22.39 22.39 0 0 0 830.25 781.50"/>
<line class="tl" x1="804.00" y1="760.30" x2="833.40" y2="760.30"/>
<rect class="tl" x="838" y="753.75" width="7.6" height="19.65" rx="1.5"/>
<ellipse class="tl" cx="855.50" cy="764.00" rx="10.30" ry="7.00"/>
<path class="k" d="M891 779.6H895L921.6 758.6V737.25"/>
<path class="k" d="M891.3 780.7L898.5 788.4"/>
<line class="dl" x1="898.50" y1="788.40" x2="898.50" y2="819.00"/>
<path class="d" d="M898.5 819A30.6 30.6 0 0 0 920.25 811" />
<path class="k" d="M921.3 809.7L928.2 817.3H935.6"/>
<rect x="926.25" y="815.60" width="3.75" height="92.80" fill="#000"/>
<rect x="800.25" y="904.70" width="32.75" height="3.70" fill="#000"/>
<rect x="901.00" y="904.70" width="29.00" height="3.70" fill="#000"/>
<rect class="tw" x="833.00" y="905.00" width="68.00" height="3.10"/>
<rect x="866.30" y="904.70" width="1.90" height="3.70" fill="#000"/>
<text class="s" x="835.60" y="844.00" font-size="14.5" textLength="59.40" lengthAdjust="spacingAndGlyphs" >LIBRARY</text>
<text class="a" x="833.45" y="854.00" font-size="11" textLength="65.60" lengthAdjust="spacingAndGlyphs" >11'-0" x 11'-0"</text>
<text class="s" x="914.00" y="784.30" font-size="14.5" textLength="45.00" lengthAdjust="spacingAndGlyphs" >FOYER</text>
<rect x="813.30" y="864.50" width="0.90" height="2.80" fill="#5f8a9f"/>
<text class="s" x="802.00" y="958.50" font-size="24.5" textLength="115.25" lengthAdjust="spacingAndGlyphs" >Opt Library</text>
<text class="s" x="825.80" y="985.25" font-size="24.5" textLength="69.50" lengthAdjust="spacingAndGlyphs" >ilo Flex</text>
<rect x="757.00" y="1014.20" width="4.00" height="58.20" fill="#000"/>
<rect x="757.00" y="1131.00" width="4.00" height="50.60" fill="#000"/>
<rect x="757.00" y="1022.70" width="131.30" height="4.20" fill="#000"/>
<rect x="784.20" y="1014.20" width="3.70" height="8.50" fill="#000"/>
<rect x="818.00" y="1014.20" width="3.60" height="8.50" fill="#000"/>
<rect x="884.60" y="1014.20" width="3.70" height="167.40" fill="#000"/>
<rect x="744.80" y="1177.30" width="42.20" height="4.30" fill="#000"/>
<rect x="858.20" y="1177.30" width="30.10" height="4.30" fill="#000"/>
<rect x="703.50" y="1177.30" width="7.50" height="4.30" fill="#000"/>
<rect class="tw" x="787.00" y="1177.60" width="71.20" height="3.70"/>
<rect x="821.30" y="1177.30" width="1.90" height="4.30" fill="#000"/>
<path class="dl" d="M711.00 1177.30L735.00 1153.40"/>
<path class="d" d="M735.00 1153.40A33.87 33.87 0 0 1 744.80 1177.30"/>
<line class="t" x1="711.00" y1="1181.30" x2="744.80" y2="1181.30"/>
<path class="dl" d="M759 1072.4L779.4 1093Q772 1099.5 761.7 1102.2Q772 1105 780.5 1110.7L759 1131" />
<rect class="da" x="777.20" y="1043.20" width="90.55" height="117.30"/>
<path class="dd" d="M854 1026.9L834.8 1043.75" />
<path class="dd" d="M825.8 1026.9Q826.5 1038 834.8 1043.75" />
<polygon points="833.00,1039.50 837.20,1044.50 834.00,1043.30" fill="#111" class=""/>
<path class="t" d="M836 1045Q842 1047 845 1052.5" />
<line class="dd" x1="860.50" y1="1014.20" x2="860.50" y2="1022.70"/>
<text class="s" x="847.25" y="1057.00" font-size="9.5" textLength="13.50" lengthAdjust="spacingAndGlyphs" >Opt</text>
<text class="s" x="843.15" y="1066.25" font-size="9.5" textLength="21.70" lengthAdjust="spacingAndGlyphs" >Door</text>
<text class="s" x="793.90" y="1114.60" font-size="14.5" textLength="54.80" lengthAdjust="spacingAndGlyphs" >DINING</text>
<text class="a" x="788.20" y="1124.50" font-size="11" textLength="68.00" lengthAdjust="spacingAndGlyphs" >10'-8" x 13'-0"</text>
<text class="s" x="775.30" y="1134.30" font-size="10" textLength="92.00" lengthAdjust="spacingAndGlyphs" >OPT TRAY CEILING</text>
<text class="s" x="704.00" y="1116.90" font-size="14.5" textLength="47.30" lengthAdjust="spacingAndGlyphs" >FOYER</text>
<rect x="743.00" y="1036.70" width="0.90" height="11.30" fill="#cfe0ea"/>
<text class="s" x="709.00" y="1222.30" font-size="24.5" textLength="192.50" lengthAdjust="spacingAndGlyphs" >Opt Private Dining</text>
<line class="dd" x1="518.30" y1="1036.00" x2="518.30" y2="1057.00"/>
<line class="tl" x1="609.30" y1="1051.50" x2="609.30" y2="1055.00"/>
<rect x="4.60" y="868.00" width="1.40" height="27.40" fill="#5f8a9f"/>
</g>
</svg>
</body></html>
